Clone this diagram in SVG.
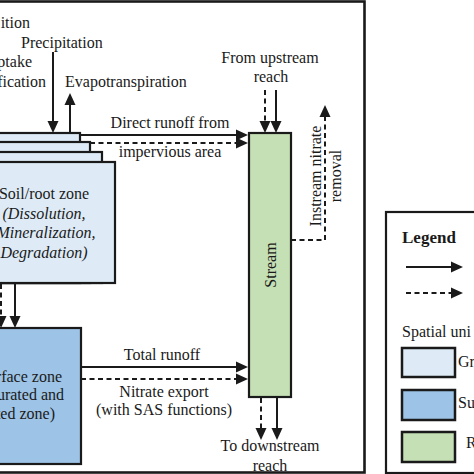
<svg xmlns="http://www.w3.org/2000/svg" width="474" height="474" viewBox="0 0 474 474">
<style>
text{font-family:"Liberation Serif","Times New Roman",serif;font-size:16px;fill:#1a1a1a}
.box{stroke:#1a1a1a;stroke-width:2.2}
.soil{fill:#deebf7}
.sub{fill:#9dc3e6}
.riv{fill:#c5e0b4}
.ln{fill:none;stroke:#1a1a1a;stroke-width:2}
.sol{marker-end:url(#ah)}
.dsh{stroke-dasharray:5 3.5;marker-end:url(#ah)}
.mid{text-anchor:middle}
.end{text-anchor:end}
.it{font-style:italic}
</style>
<defs>
<marker id="ah" markerUnits="userSpaceOnUse" markerWidth="12" markerHeight="11" refX="0" refY="5.5" orient="auto" overflow="visible">
<path d="M0,0 L12,5.5 L0,11 z" fill="#1a1a1a"/>
</marker>
</defs>
<rect width="474" height="474" fill="#fff"/>
<rect x="-5" y="1.5" width="369.5" height="471" fill="none" stroke="#1a1a1a" stroke-width="2.6"/>

<g id="soil-zone">
<rect class="box soil" x="-10" y="133" width="90" height="150"/>
<rect class="box soil" x="-10" y="142" width="100" height="141"/>
<rect class="box soil" x="-10" y="152" width="112" height="131"/>
<rect class="box soil" x="-10" y="162" width="125" height="121"/>
<text class="mid" x="44" y="199">Soil/root zone</text>
<text class="mid it" x="44" y="219">(Dissolution,</text>
<text class="mid it" x="46" y="238">Mineralization,</text>
<text class="mid it" x="44" y="258">Degradation)</text>
</g>

<g id="subsurface-zone">
<rect class="box sub" x="-10" y="328" width="91" height="136"/>
<text class="end" x="62" y="382">Subsurface zone</text>
<text class="end" x="64" y="400">(saturated and</text>
<text class="end" x="55" y="419">unsaturated zone)</text>
</g>

<g id="stream">
<rect class="box riv" x="249" y="133" width="42" height="264"/>
<text class="mid" transform="translate(276,265) rotate(-90)">Stream</text>
</g>

<g id="connectors">
<line class="ln sol" x1="53" y1="52" x2="53" y2="121"/>
<line class="ln sol" x1="70" y1="133" x2="70" y2="105"/>
<line class="ln sol" x1="80" y1="135" x2="236" y2="135"/>
<line class="ln dsh" x1="90" y1="143" x2="236" y2="143"/>
<line class="ln dsh" x1="265" y1="90" x2="265" y2="121"/>
<line class="ln sol" x1="276" y1="90" x2="276" y2="121"/>
<path class="ln dsh" d="M291,240 H325 V117"/>
<line class="ln dsh" x1="1" y1="284" x2="1" y2="316"/>
<line class="ln sol" x1="15" y1="284" x2="15" y2="316"/>
<line class="ln sol" x1="81" y1="367" x2="236" y2="367"/>
<line class="ln dsh" x1="81" y1="379" x2="236" y2="379"/>
<line class="ln dsh" x1="261" y1="398" x2="261" y2="428"/>
<line class="ln sol" x1="277" y1="398" x2="277" y2="428"/>
</g>

<g id="labels">
<text class="end" x="30" y="28">ition</text>
<text x="21" y="48">Precipitation</text>
<text class="end" x="32" y="67">ptake</text>
<text class="end" x="46" y="87">fication</text>
<text x="65" y="87">Evapotranspiration</text>
<text class="mid" x="170" y="128">Direct runoff from</text>
<text class="mid" x="170" y="157">impervious area</text>
<text class="mid" x="270" y="63">From upstream</text>
<text class="mid" x="271" y="82">reach</text>
<text class="mid" transform="translate(321,176) rotate(-90)">Instream nitrate</text>
<text class="mid" transform="translate(341,176) rotate(-90)">removal</text>
<text class="mid" x="162" y="360">Total runoff</text>
<text class="mid" x="164" y="397">Nitrate export</text>
<text class="mid" x="164" y="415">(with SAS functions)</text>
<text class="mid" x="270" y="451">To downstream</text>
<text class="mid" x="270" y="471">reach</text>
</g>

<g id="legend">
<rect x="386" y="212" width="100" height="261" fill="#fff" stroke="#1a1a1a" stroke-width="2.2"/>
<text x="402" y="243" style="font-weight:bold;font-size:17px">Legend</text>
<line class="ln sol" x1="406" y1="267" x2="451" y2="267"/>
<line class="ln dsh" x1="406" y1="293" x2="451" y2="293"/>
<text x="402" y="337">Spatial uni</text>
<rect class="soil" x="402" y="348" width="53" height="29" stroke="#1a1a1a" stroke-width="2.5"/>
<text x="458" y="367">Gr</text>
<rect class="sub" x="402" y="390" width="53" height="30" stroke="#1a1a1a" stroke-width="2.5"/>
<text x="458" y="408">Su</text>
<rect class="riv" x="402" y="432" width="53" height="30" stroke="#1a1a1a" stroke-width="2.5"/>
<text x="466" y="448">R</text>
</g>
</svg>
